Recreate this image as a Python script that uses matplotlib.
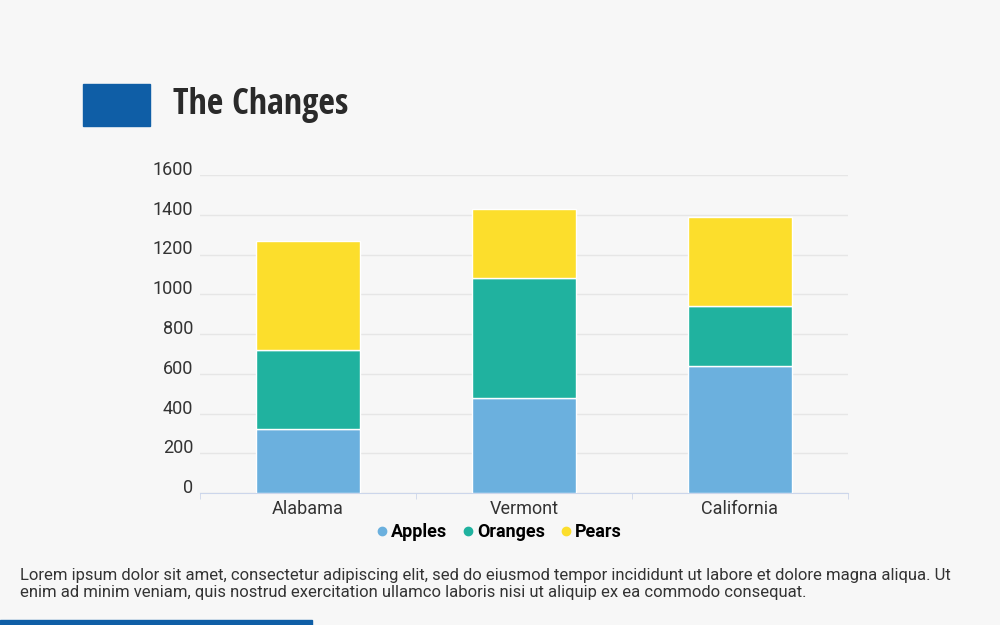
import matplotlib

matplotlib.use("Agg")
import matplotlib.pyplot as plt
from matplotlib.lines import Line2D
from matplotlib.patches import Rectangle
import numpy as np

categories = ["Alabama", "Vermont", "California"]
apples = [320, 480, 640]
oranges = [400, 600, 300]
pears = [550, 350, 450]
series_names = ["Apples", "Oranges", "Pears"]
series_colors = ["#6BB0DE", "#20B29F", "#FCDE2C"]
y_ticks = [0, 200, 400, 600, 800, 1000, 1200, 1400, 1600]

BG = "#F7F7F7"
BLUE = "#0F5EA6"

plt.rcParams["font.family"] = ["Roboto", "DejaVu Sans"]

fig = plt.figure(figsize=(10, 6.25), dpi=100, facecolor=BG)

# header block + title
fig.patches.append(Rectangle((83 / 1000, 1 - 126 / 625), 67 / 1000, 42 / 625,
                             transform=fig.transFigure, color=BLUE))
fig.text(0.173, 1 - 105 / 625, "The Changes", fontsize=25.8, fontweight="bold",
         family=["Open Sans Condensed", "DejaVu Sans"], color="#2A2A2A", va="center")

ax = fig.add_axes([0.2, 1 - 493 / 625, 0.648, 318 / 625])
ax.set_facecolor(BG)

x = np.arange(len(categories))
stacks = [apples, oranges, pears]
bottom = np.zeros(len(categories))
for name, vals, col in zip(series_names, stacks, series_colors):
    ax.bar(x, vals, width=0.48, bottom=bottom, color=col, edgecolor="white",
           linewidth=1, label=name, zorder=3)
    bottom += np.array(vals)

ax.set_xlim(-0.5, len(categories) - 0.5)
ax.set_ylim(0, 1600)
ax.set_yticks(y_ticks)
ax.set_yticklabels([str(v) for v in y_ticks], fontsize=13, color="#333333")
for lab in ax.get_yticklabels():
    lab.set_verticalalignment("baseline")
ax.tick_params(axis="y", length=0, pad=5)
ax.grid(axis="y", color="#E6E6E6", linewidth=1, zorder=0)

ax.set_xticks(x)
ax.set_xticklabels(categories, fontsize=13, color="#333333")
ax.set_xticks(np.arange(-0.5, len(categories)), minor=True)
ax.tick_params(axis="x", which="major", length=0, pad=5)
ax.tick_params(axis="x", which="minor", length=4, color="#CCD6EB", direction="out")

for side in ["top", "right", "left"]:
    ax.spines[side].set_visible(False)
ax.spines["bottom"].set_color("#CCD6EB")

handles = [Line2D([], [], marker="o", linestyle="", markersize=6,
                  markerfacecolor=c, markeredgecolor=c) for c in series_colors]
fig.legend(handles, series_names, loc="center", bbox_to_anchor=(0.5, 1 - 532 / 625),
           ncol=3, frameon=False, handlelength=0.5, handletextpad=0.25,
           columnspacing=0.9, borderpad=0,
           prop={"family": "Roboto", "weight": "bold", "size": 13})

body = ("Lorem ipsum dolor sit amet, consectetur adipiscing elit, sed do eiusmod tempor "
        "incididunt ut labore et dolore magna aliqua. Ut\nenim ad minim veniam, quis "
        "nostrud exercitation ullamco laboris nisi ut aliquip ex ea commodo consequat.")
fig.text(0.02, 1 - 584 / 625, body, fontsize=12, color="#333333",
         va="center", linespacing=1.2)

fig.patches.append(Rectangle((0, 0), 0.312, 5 / 625, transform=fig.transFigure, color=BLUE))

fig.savefig("out.png", dpi=100, facecolor=BG)
